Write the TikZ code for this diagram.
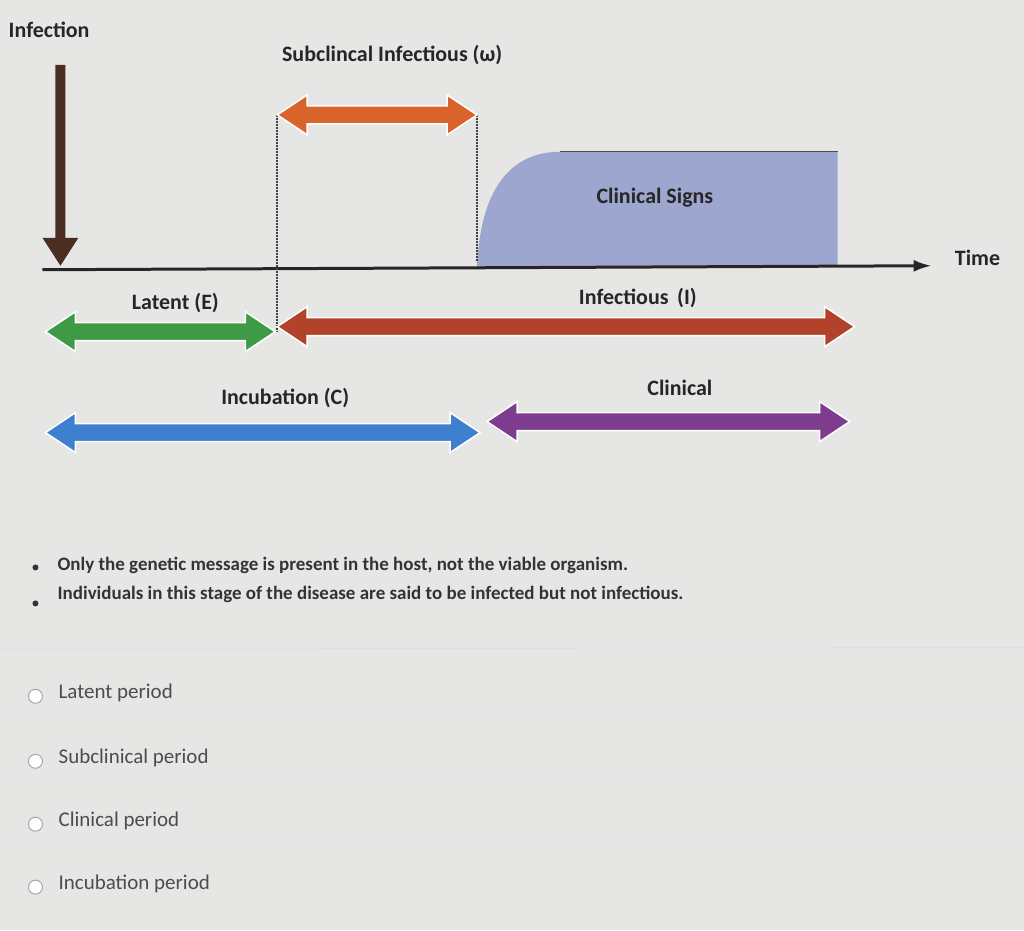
\documentclass[tikz,border=0pt]{standalone}
\usepackage{fontspec}
\setmainfont{Carlito}
\usetikzlibrary{arrows.meta}
\begin{document}
\begin{tikzpicture}[x=1pt,y=-1pt,
  lbl/.style={font=\fontsize{22}{24}\selectfont\bfseries,text=black!85,inner sep=0pt},
  txt/.style={font=\fontsize{19}{22}\selectfont\bfseries,text=black!80,anchor=west,inner sep=0pt},
  opt/.style={font=\fontsize{21}{24}\selectfont,text=black!70,anchor=west,inner sep=0pt},
  radio/.style={draw=black!35,fill=white,line width=1pt},
  dotline/.style={densely dotted,line width=2pt,black!75}]
\definecolor{bg}{HTML}{E6E7E5}
\definecolor{infbrown}{HTML}{4A2E22}
\definecolor{orng}{HTML}{D9632A}
\definecolor{grn}{HTML}{3E9A45}
\definecolor{redbr}{HTML}{B2422A}
\definecolor{blu}{HTML}{3E7FD0}
\definecolor{purp}{HTML}{7E3C8E}
\definecolor{sign}{HTML}{9DA6CE}
\newcommand\darrow[4]{%
  \fill[#4,draw=white,line width=1.5pt] (#1,#3) -- (#1+30,#3-20) -- (#1+30,#3-9)
    -- (#2-30,#3-9) -- (#2-30,#3-20) -- (#2,#3) -- (#2-30,#3+20) -- (#2-30,#3+9)
    -- (#1+30,#3+9) -- (#1+30,#3+20) -- cycle;}
\fill[bg] (0,0) rectangle (1024,931);
\draw[black!12,line width=1pt] (0,650) -- (1024,648);
\draw[black!10,line width=1pt] (0,712) -- (1024,710);
\draw[black!10,line width=1pt] (0,775) -- (1024,773);
\draw[black!10,line width=1pt] (0,838) -- (1024,836);
% clinical signs
\fill[sign] (477,268) .. controls (480,190) and (510,152) .. (560,152) -- (838,152) -- (838,265) -- cycle;
\draw[black!70,line width=1pt] (560,152) -- (838,152);
\node[lbl] (cs) at (655,198) {Clinical Signs};
% infection arrow
\fill[infbrown] (55,65) -- (65,65) -- (65,238) -- (78,238) -- (60,266) -- (42,238) -- (55,238) -- cycle;
\node[lbl,anchor=west] (inf) at (8,30) {Infection};
% time axis
\draw[line width=3pt,black!85,-{Latex[length=18pt,width=12pt]}] (42,270) -- (932,266);
\node[lbl] (time) at (978,258) {Time};
% dotted lines
\draw[dotline] (277,115) -- (277,332);
\draw[dotline] (477,115) -- (477,262);
% arrows
\darrow{277}{477}{115}{orng}
\darrow{45}{275}{332}{grn}
\darrow{277}{855}{327}{redbr}
\darrow{45}{480}{433}{blu}
\darrow{487}{850}{422}{purp}
\node[lbl] (sub) at (392,55) {Subclincal Infectious (ω)};
\node[lbl] (lat) at (175,303) {Latent (E)};
\node[lbl] (infl) at (638,298) {Infectious\, (I)};
\node[lbl] (inc) at (285,398) {Incubation (C)};
\node[lbl] (cli) at (680,388) {Clinical};
% bullets
\fill[black!80] (35,568) circle (3pt);
\fill[black!80] (35,604) circle (3pt);
\node[txt] (b1) at (57,566) {Only the genetic message is present in the host, not the viable organism.};
\node[txt] (b2) at (57,595) {Individuals in this stage of the disease are said to be infected but not infectious.};
% options
\foreach \y/\t in {697/Latent period,762/Subclinical period,825/Clinical period,888/Incubation period}{
  \draw[radio] (35,\y) circle (7pt);
  \node[opt] at (58,\y-3) {\t};
}
\end{tikzpicture}
\end{document}
